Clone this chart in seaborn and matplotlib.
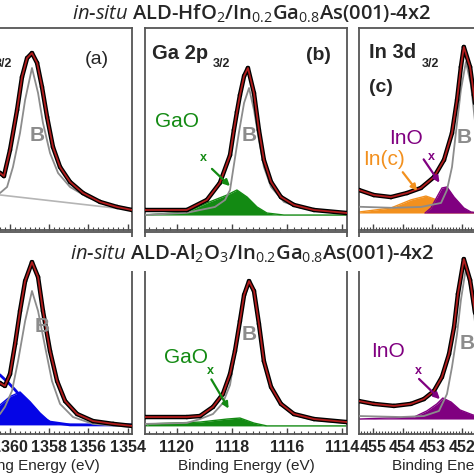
import matplotlib
matplotlib.use("Agg")
import matplotlib.pyplot as plt
import seaborn as sns
from matplotlib.ticker import MultipleLocator

# ---------------- data (binding energy in eV, intensity in % of axis) ----------------
# (a) HfO2, left core level
a_fit_E = [1364.08, 1362.55, 1361.28, 1360.51, 1360.31, 1360.0, 1359.64, 1359.39, 1359.13, 1358.88,
           1358.62, 1358.37, 1358.11, 1357.81, 1357.45, 1356.94, 1356.28, 1355.41, 1354.54, 1353.78]
a_fit_I = [32, 36, 33, 28.2, 26.7, 39.6, 59.4, 75.7, 85.1, 87.6, 82.7, 70.8, 55.9, 41.1, 31.2, 23.8, 18.3, 13.9, 11.4, 9.9]
a_B_E = [1364.08, 1362.04, 1360.51, 1360.15, 1359.85, 1359.49, 1359.23, 1358.88, 1358.57, 1358.32,
         1357.96, 1357.55, 1356.94, 1356.07, 1354.90, 1353.78]
a_B_I = [21.8, 19.5, 18.3, 21.3, 31.2, 48.0, 64.4, 80.2, 67.8, 53.0, 38.1, 28.2, 21.3, 16.3, 12.4, 10.4]
a_bg_E = [1364.08, 1353.78]
a_bg_I = [21.3, 9.9]

# (b) HfO2, Ga 2p3/2
b_fit_E = [1121.16, 1119.64, 1118.91, 1118.44, 1118.07, 1117.93, 1117.82, 1117.71, 1117.56, 1117.42,
           1117.20, 1117.02, 1116.84, 1116.58, 1116.22, 1115.75, 1115.02, 1113.82]
b_fit_I = [9.9, 9.9, 14.9, 23.3, 37.1, 49.5, 58.4, 66.8, 76.2, 80.2, 67.8, 49.5, 34.7, 23.8, 16.3, 12.4, 9.9, 8.4]
b_B_E = [1121.16, 1119.64, 1119.16, 1118.62, 1118.25, 1118.07, 1117.93, 1117.75, 1117.56, 1117.38,
         1117.20, 1117.02, 1116.84, 1116.58, 1116.11, 1115.49, 1113.82]
b_B_I = [7.5, 8.5, 9.9, 11.4, 14.9, 19.8, 32.2, 48.0, 62.9, 70.3, 59.4, 44.6, 31.2, 21.3, 13.9, 10.9, 8.4]
b_gaox_E = [1121.16, 1120.98, 1119.64, 1118.91, 1118.18, 1117.82, 1117.45, 1117.09, 1116.73, 1116.11, 1113.82]
b_gaox_I = [7.4, 7.6, 8.9, 13.4, 17.3, 19.8, 16.3, 11.4, 8.4, 7.4, 7.4]

# (c) HfO2, In 3d3/2
c_fit_E = [455.47, 454.97, 454.39, 453.85, 453.38, 452.94, 452.60, 452.33, 452.16, 452.03,
           451.93, 451.72, 451.59, 451.39, 451.05, 450.54, 449.70, 448.65]
c_fit_I = [19.8, 17.3, 16.3, 18.3, 20.8, 26.2, 34.7, 48.0, 64.4, 80.7, 90.6, 80.7, 66.8, 44.6, 22.3, 14.9, 10.9, 9.4]
c_B_E = [455.47, 454.39, 453.38, 452.70, 452.50, 452.33, 452.20, 452.03, 451.86, 451.69,
         451.52, 451.22, 450.71, 449.70, 448.65]
c_B_I = [11.5, 11.0, 11.4, 13.4, 19.8, 31.2, 48.0, 69.3, 83.2, 71.8, 49.5, 24.8, 13.4, 9.9, 9.4]
c_inc_E = [455.47, 454.39, 453.72, 453.21, 452.84, 452.36, 451.93, 451.39, 448.65]
c_inc_I = [8.9, 10.9, 14.9, 16.8, 14.9, 10.9, 8.9, 8.4, 8.4]
c_inox_E = [453.24, 453.04, 452.84, 452.67, 452.50, 452.26, 451.93, 451.69, 451.39]
c_inox_I = [8.4, 10.9, 16.3, 20.8, 21.3, 16.3, 10.9, 8.9, 8.4]

# (d) Al2O3, left core level
d_fit_E = [1364.08, 1362.55, 1361.28, 1360.51, 1360.26, 1360.0, 1359.74, 1359.49, 1359.23, 1358.88,
           1358.57, 1358.32, 1357.96, 1357.60, 1357.19, 1356.58, 1355.77, 1354.74, 1353.78]
d_fit_I = [35, 33, 30, 25.2, 23.8, 29.7, 44.6, 60.9, 75.7, 85.1, 77.7, 60.9, 41.1, 26.2, 16.3, 9.9, 6.4, 5.0, 4.0]
d_B_E = [1364.08, 1362.04, 1360.51, 1360.26, 1359.90, 1359.59, 1359.23, 1358.88, 1358.57, 1358.21,
         1357.86, 1357.45, 1356.79, 1355.77, 1353.78]
d_B_I = [5.0, 6.0, 9.9, 13.4, 21.3, 36.1, 55.9, 70.8, 60.9, 43.1, 26.2, 14.9, 8.4, 5.0, 3.5]
d_ox1_E = [1364.08, 1362.29, 1361.02, 1360.51, 1360.10, 1359.74, 1359.23, 1358.72, 1357.96, 1356.94, 1353.78]
d_ox1_I = [30, 34, 32, 29.2, 25.5, 21.8, 16, 10, 5.9, 4.5, 4.5]
d_ox2_E = [1364.08, 1362.04, 1360.51, 1360.0, 1359.49, 1358.98, 1358.47, 1357.96, 1357.45, 1353.78]
d_ox2_I = [6, 10, 14.4, 18.5, 20.8, 16, 10.4, 5.9, 4.8, 4.5]

# (e) Al2O3, Ga 2p3/2
e_fit_E = [1121.16, 1119.64, 1119.16, 1118.69, 1118.33, 1118.07, 1117.89, 1117.71, 1117.56, 1117.38,
           1117.20, 1117.02, 1116.84, 1116.58, 1116.22, 1115.75, 1115.02, 1113.82]
e_fit_I = [8.4, 8.4, 8.9, 13.4, 19.8, 29.7, 41.1, 55.9, 68.8, 75.7, 70.8, 54.5, 36.1, 23.3, 14.9, 9.9, 7.4, 5.9]
e_B_E = [1121.16, 1119.64, 1119.16, 1118.69, 1118.33, 1118.07, 1117.93, 1117.71, 1117.56, 1117.38,
         1117.20, 1117.02, 1116.84, 1116.58, 1116.22, 1115.75, 1115.02, 1113.82]
e_B_I = [5.0, 5.5, 7.4, 9.9, 15.3, 24.3, 36.1, 54.0, 67.3, 74.3, 69.8, 53.5, 35.6, 22.8, 14.4, 9.4, 6.9, 5.4]
e_gaox_E = [1121.16, 1120.98, 1119.16, 1118.18, 1117.71, 1117.20, 1116.73, 1113.82]
e_gaox_I = [4.0, 5.0, 5.9, 7.4, 7.9, 5.4, 4.0, 4.0]

# (f) Al2O3, In 3d3/2
f_fit_E = [455.47, 454.97, 454.29, 453.72, 453.28, 452.94, 452.67, 452.43, 452.26, 452.13,
           451.93, 451.72, 451.55, 451.35, 451.05, 450.54, 449.70, 448.65]
f_fit_I = [16.3, 14.9, 13.9, 14.9, 17.3, 21.3, 28.2, 39.6, 53.0, 69.3, 86.6, 76.2, 59.9, 39.1, 19.3, 10.9, 7.4, 6.4]
f_B_E = [455.47, 454.05, 453.28, 452.77, 452.50, 452.33, 452.16, 452.03, 451.86, 451.69,
         451.52, 451.25, 450.88, 450.03, 448.65]
f_B_I = [8.9, 8.4, 8.9, 11.4, 19.8, 33.2, 49.5, 66.3, 82.2, 71.3, 51.5, 26.7, 12.9, 8.4, 7.9]
f_inox_E = [455.47, 453.61, 453.18, 452.84, 452.64, 452.36, 452.06, 451.62, 451.05, 448.65]
f_inox_I = [7.4, 8.4, 11.4, 14.9, 17.8, 15.8, 11.9, 9.4, 7.9, 7.4]

xlims = {"a": (1364.08, 1353.78), "b": (1121.16, 1113.82), "c": (455.47, 448.65)}
majors = {"a": [1360, 1358, 1356, 1354], "b": [1120, 1118, 1116, 1114], "c": [455, 454, 453, 452, 451, 450, 449]}
minors = {"a": 0.25, "b": 0.25, "c": 0.1}

GRAY = "#8c8c8c"
RED = "#b01c1c"
GREEN = "#138a13"
ORANGE = "#f2901e"
PURPLE = "#800080"
BLUE = "#0505e6"

sns.set_theme(style="white")
plt.rcParams["font.family"] = ["Liberation Sans", "DejaVu Sans"]
plt.rcParams["mathtext.fontset"] = "custom"
plt.rcParams["mathtext.rm"] = "Open Sans"
plt.rcParams["mathtext.it"] = "Open Sans:italic"

fig = plt.figure(figsize=(4.74, 4.74), dpi=100)
W = 202 / 474
lefts = [-70 / 474, 145 / 474, 359 / 474]
bottoms = [(474 - 230) / 474, (474 - 434) / 474]
axes = {}
for r, row in enumerate([["a", "b", "c"], ["d", "e", "f"]]):
    for c, key in enumerate(row):
        axes[key] = fig.add_axes([lefts[c], bottoms[r], W, W])


def style_axis(ax, col, bottom_row):
    ax.set_xlim(*xlims[col])
    ax.set_ylim(0, 100)
    ax.set_yticks([])
    ax.set_xticks(majors[col])
    ax.xaxis.set_minor_locator(MultipleLocator(minors[col]))
    ax.tick_params(axis="x", which="major", direction="in", length=4, width=1, color="#444444",
                   bottom=True, labelsize=11.5, pad=4, labelbottom=bottom_row)
    ax.tick_params(axis="x", which="minor", direction="in", length=2.5, width=0.8, color="#444444", bottom=True)
    for s in ax.spines.values():
        s.set_color("#555555")
        s.set_linewidth(1.3)
    if bottom_row:
        for lbl in ax.get_xticklabels():
            lbl.set_fontweight("bold")
        ax.set_xlabel("Binding Energy (eV)", fontsize=11, labelpad=3)
    else:
        ax.set_xlabel("")
    ax.set_ylabel("")


def draw(ax, fit_E, fit_I, B_E, B_I, comps, base, bg=None):
    for E, I, col in comps:
        ax.fill_between(E, base, I, color=col, lw=0, zorder=1)
        ax.plot(E, I, color=col, lw=1, zorder=1)
    if bg is not None:
        ax.plot(bg[0], bg[1], color="#b5b5b5", lw=1.2, zorder=2)
    sns.lineplot(x=B_E, y=B_I, ax=ax, color=GRAY, lw=1.3, zorder=3)
    # measured points
    ax.plot(fit_E, fit_I, color="black", lw=3.2, zorder=4)
    sns.scatterplot(x=fit_E, y=fit_I, ax=ax, color="black", s=10, edgecolor="none", zorder=4)
    sns.lineplot(x=fit_E, y=fit_I, ax=ax, color=RED, lw=1.3, zorder=5)


draw(axes["a"], a_fit_E, a_fit_I, a_B_E, a_B_I, [], 0, bg=(a_bg_E, a_bg_I))
draw(axes["b"], b_fit_E, b_fit_I, b_B_E, b_B_I, [(b_gaox_E, b_gaox_I, GREEN)], 7.4)
draw(axes["c"], c_fit_E, c_fit_I, c_B_E, c_B_I,
     [(c_inc_E, c_inc_I, ORANGE), (c_inox_E, c_inox_I, PURPLE)], 8.4)
draw(axes["d"], d_fit_E, d_fit_I, d_B_E, d_B_I, [(d_ox2_E, d_ox2_I, BLUE)], 4.5)
axes["d"].plot(d_ox1_E, d_ox1_I, color=BLUE, lw=2, zorder=2)
draw(axes["e"], e_fit_E, e_fit_I, e_B_E, e_B_I, [(e_gaox_E, e_gaox_I, GREEN)], 4.0)
draw(axes["f"], f_fit_E, f_fit_I, f_B_E, f_B_I, [(f_inox_E, f_inox_I, PURPLE)], 7.4)

for key, col in zip("abcdef", "abcabc"):
    style_axis(axes[key], col, key in "def")

# B labels
for key, (x, y) in {"a": (1358.62, 47), "b": (1117.38, 47), "c": (451.93, 46),
                    "d": (1358.37, 53), "e": (1117.38, 49.5), "f": (451.82, 44.6)}.items():
    axes[key].text(x, y, "B", color=GRAY, fontsize=15, fontweight="bold", ha="center", va="center", zorder=6)

# panel labels
axes["a"].text(1355.56, 84.2, "(a)", fontsize=14, ha="center", va="center")
axes["b"].text(1114.84, 86.6, "(b)", fontsize=14, fontweight="bold", ha="center", va="center")
axes["c"].text(454.73, 70.3, "(c)", fontsize=14, fontweight="bold", ha="center", va="center")
axes["a"].text(1360.75, 88, "As 2p", fontsize=14.5, fontweight="bold", ha="right", va="center")
axes["a"].text(1359.88, 82.2, "3/2", fontsize=9, fontweight="bold", ha="right", va="center")
axes["b"].text(1120.91, 87.6, "Ga 2p", fontsize=14.5, fontweight="bold", ha="left", va="center")
axes["b"].text(1118.69, 82.2, "3/2", fontsize=9, fontweight="bold", ha="left", va="center")
axes["c"].text(455.14, 88.1, "In 3d", fontsize=14.5, fontweight="bold", ha="left", va="center")
axes["c"].text(453.34, 82.2, "3/2", fontsize=9, fontweight="bold", ha="left", va="center")


def label(ax, text, xy, sub_xy, tail, head, color):
    ax.text(xy[0], xy[1], text, color=color, fontsize=15, ha="center", va="center", zorder=7)
    ax.text(sub_xy[0], sub_xy[1], "x", color=color, fontsize=9, fontweight="bold", ha="center", va="center", zorder=7)
    ax.annotate("", xy=head, xytext=tail, zorder=7,
                arrowprops=dict(arrowstyle="-|>", color=color, lw=1.6, mutation_scale=9))


label(axes["b"], "GaO", (1120.0, 53.5), (1119.05, 35.6), (1118.8, 31.2), (1118.0, 20.8), GREEN)
label(axes["e"], "GaO", (1119.67, 38.1), (1118.8, 31.2), (1118.8, 28.2), (1118.07, 11.4), GREEN)
label(axes["c"], "InO", (453.89, 45.5), (453.04, 36.1), (453.34, 36.1), (452.70, 22.3), PURPLE)
label(axes["f"], "InO", (454.49, 40.6), (453.45, 31.2), (453.51, 28.2), (452.67, 16.3), PURPLE)
axes["c"].text(454.63, 34.7, "In(c)", color=ORANGE, fontsize=15, ha="center", va="center", zorder=7)
axes["c"].annotate("", xy=(453.45, 18.3), xytext=(454.05, 29.7), zorder=7,
                   arrowprops=dict(arrowstyle="-|>", color=ORANGE, lw=1.6, mutation_scale=9))

# titles
fig.text(252 / 474, 1 - 14 / 474, r"$\mathit{in}$-$\mathit{situ}$ ALD-HfO$_2$/In$_{0.2}$Ga$_{0.8}$As(001)-4x2",
         family="Open Sans", fontsize=14.5, fontweight="semibold", ha="center", va="center")
fig.text(252 / 474, 1 - 254 / 474, r"$\mathit{in}$-$\mathit{situ}$ ALD-Al$_2$O$_3$/In$_{0.2}$Ga$_{0.8}$As(001)-4x2",
         family="Open Sans", fontsize=14.5, fontweight="semibold", ha="center", va="center", zorder=10,
         bbox=dict(facecolor="white", edgecolor="none", pad=4))

fig.savefig("out.png", dpi=100)
